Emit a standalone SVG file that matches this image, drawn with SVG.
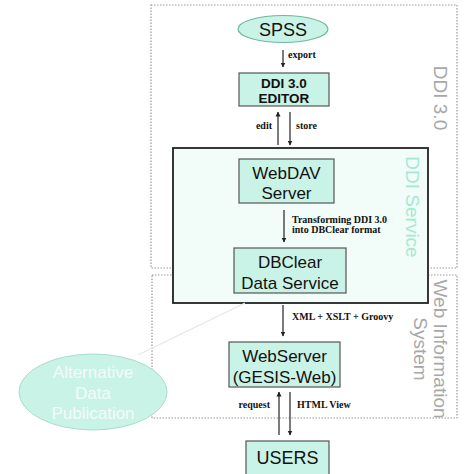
<svg xmlns="http://www.w3.org/2000/svg" width="474" height="474" viewBox="0 0 474 474">
<defs>
<marker id="ah" viewBox="0 0 10 10" refX="9" refY="5" markerWidth="5" markerHeight="6" orient="auto-start-reverse" markerUnits="userSpaceOnUse">
<path d="M0,0 L10,5 L0,10 z" fill="#222"/>
</marker>
<style>
.zone{fill:none;stroke:#999;stroke-width:1.2;stroke-dasharray:1.5 1.5}
.box{fill:#c9f3e6;stroke:#555;stroke-width:1.2}
.t{font-family:"Liberation Sans",Arial,sans-serif;fill:#111;text-anchor:middle}
.lbl{font-family:"Liberation Serif","Times New Roman",serif;font-weight:bold;font-size:10px;fill:#111}
.ar{stroke:#222;stroke-width:1.2;fill:none;marker-end:url(#ah)}
</style>
</defs>
<rect width="474" height="474" fill="#fff"/>
<g id="zones">
<rect class="zone" x="151" y="5" width="306" height="263"/>
<rect class="zone" x="152" y="275" width="305" height="143"/>
<text class="t" transform="translate(434,98) rotate(90)" font-size="19" style="fill:#a8a8a8">DDI 3.0</text>
<text class="t" transform="translate(434,349) rotate(90)" font-size="19" style="fill:#a8a8a8">Web Information</text>
<text class="t" transform="translate(414,349) rotate(90)" font-size="19" style="fill:#a8a8a8">System</text>
</g>
<g id="ddi-service">
<rect x="173" y="148" width="255" height="155" fill="#f2fcf9" stroke="#222" stroke-width="1.8"/>
<text class="t" transform="translate(406,207) rotate(90)" font-size="19" style="fill:#a3ead4">DDI Service</text>
</g>
<g id="connectors">
<line x1="245" y1="303" x2="138" y2="355" stroke="#e6e6e6" stroke-width="1.2"/>
<line class="ar" x1="283" y1="50" x2="283" y2="67"/>
<line class="ar" x1="278" y1="145" x2="278" y2="112"/>
<line class="ar" x1="290" y1="112" x2="290" y2="145"/>
<line class="ar" x1="284" y1="210" x2="284" y2="242"/>
<line class="ar" x1="283" y1="305" x2="283" y2="336"/>
<line class="ar" x1="279" y1="435" x2="279" y2="392"/>
<line class="ar" x1="290" y1="392" x2="290" y2="435"/>
<text class="lbl" x="288" y="58">export</text>
<text class="lbl" x="272" y="129" text-anchor="end">edit</text>
<text class="lbl" x="296" y="129">store</text>
<text class="lbl" x="292" y="223">Transforming DDI 3.0</text>
<text class="lbl" x="292" y="233">into DBClear format</text>
<text class="lbl" x="292" y="320">XML + XSLT + Groovy</text>
<text class="lbl" x="270" y="408" text-anchor="end">request</text>
<text class="lbl" x="297" y="408">HTML View</text>
</g>
<g id="spss">
<ellipse cx="283" cy="29" rx="45" ry="13.5" fill="#c9f3e6" stroke="#6fb89f" stroke-width="1.2"/>
<text class="t" x="283" y="35.5" font-size="18">SPSS</text>
</g>
<g id="editor">
<rect class="box" x="239" y="73" width="90" height="33"/>
<text class="t" x="284" y="88" font-size="13.5" font-weight="bold">DDI 3.0</text>
<text class="t" x="284" y="103" font-size="13.5" font-weight="bold">EDITOR</text>
</g>
<g id="webdav">
<rect class="box" x="239" y="159" width="95" height="44"/>
<text class="t" x="286.5" y="179" font-size="17">WebDAV</text>
<text class="t" x="286.5" y="199" font-size="17">Server</text>
</g>
<g id="dbclear">
<rect class="box" x="234" y="248" width="112" height="45"/>
<text class="t" x="290" y="268" font-size="17">DBClear</text>
<text class="t" x="290" y="289" font-size="17">Data Service</text>
</g>
<g id="webserver">
<rect class="box" x="229" y="342" width="111" height="45"/>
<text class="t" x="284.5" y="362" font-size="17">WebServer</text>
<text class="t" x="284.5" y="383" font-size="17">(GESIS-Web)</text>
</g>
<g id="users">
<rect class="box" x="246" y="441" width="83" height="40"/>
<text class="t" x="287.5" y="464" font-size="18">USERS</text>
</g>
<g id="alt-pub">
<ellipse cx="93" cy="392" rx="74" ry="38" fill="#c9f3e6" stroke="#a8dccb" stroke-width="1"/>
<text class="t" x="93" y="378" font-size="17" style="fill:#f4fbf9">Alternative</text>
<text class="t" x="93" y="399" font-size="17" style="fill:#f4fbf9">Data</text>
<text class="t" x="93" y="419" font-size="17" style="fill:#f4fbf9">Publication</text>
</g>
</svg>
